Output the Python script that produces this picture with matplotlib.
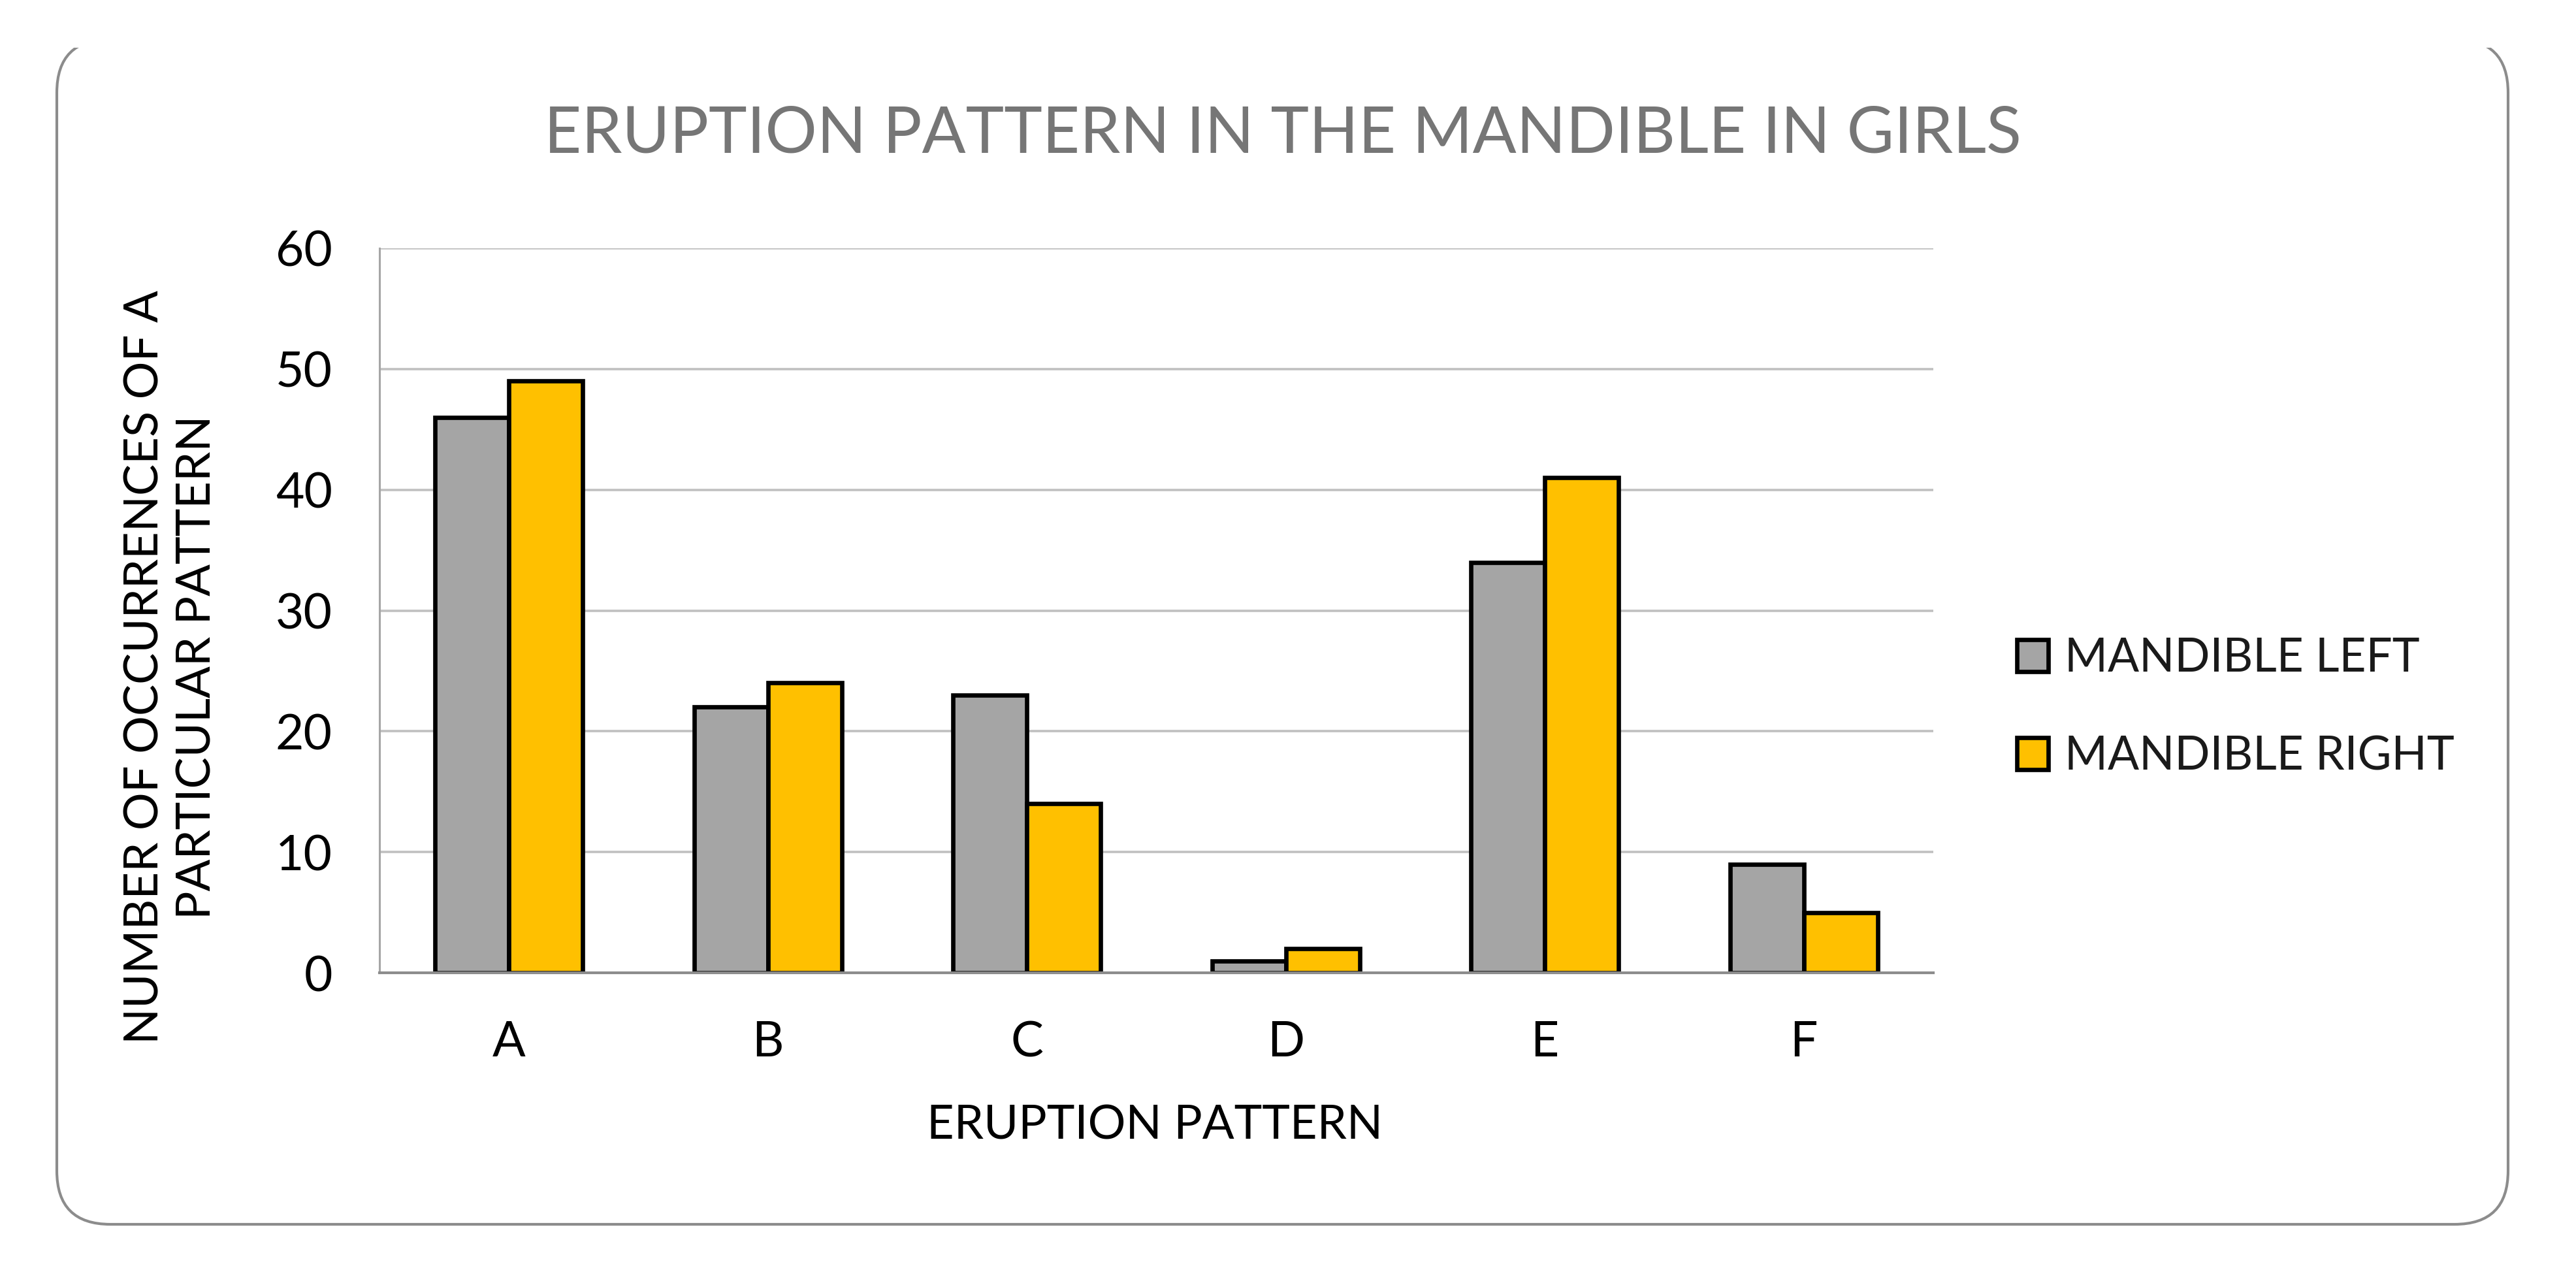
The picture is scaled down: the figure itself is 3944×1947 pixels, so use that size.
import numpy as np
import matplotlib
matplotlib.use("Agg")
import matplotlib.pyplot as plt
from matplotlib.patches import FancyBboxPatch, Rectangle
from matplotlib.transforms import IdentityTransform

categories = ["A", "B", "C", "D", "E", "F"]
mandible_left = [46, 22, 23, 1, 34, 9]
mandible_right = [49, 24, 14, 2, 41, 5]
series_names = ["MANDIBLE LEFT", "MANDIBLE RIGHT"]
yticks = [0, 10, 20, 30, 40, 50, 60]

FONT = ["Lato", "DejaVu Sans"]
plt.rcParams['font.family'] = FONT

W, H, DPI = 3944, 1947, 200
fig = plt.figure(figsize=(W / DPI, H / DPI), dpi=DPI)
fig.patch.set_facecolor("white")

# rounded outer border (pixel coords, origin bottom-left)
left_px, right_px, bottom_px, top_px = 87, 3840, H - 1874, H - 60
border = FancyBboxPatch((left_px, bottom_px), right_px - left_px, top_px - bottom_px,
                        boxstyle="round,pad=0,rounding_size=82",
                        transform=IdentityTransform(), facecolor="none",
                        edgecolor="#8c8c8c", linewidth=1.5, zorder=0)
fig.patches.append(border)
cover = Rectangle((0, H - 73), W, 73, transform=IdentityTransform(),
                  facecolor="white", edgecolor="none", zorder=1)
fig.patches.append(cover)

ax = fig.add_axes([581 / W, 1 - 1489 / H, (2960 - 581) / W, (1489 - 380) / H])
x = np.arange(len(categories))
w = 0.285
ax.bar(x - w / 2, mandible_left, w, color="#A5A5A5", edgecolor="black",
       linewidth=2.4, label=series_names[0], zorder=3)
ax.bar(x + w / 2, mandible_right, w, color="#FFC000", edgecolor="black",
       linewidth=2.4, label=series_names[1], zorder=3)

ax.set_xlim(-0.5, len(categories) - 0.5)
ax.set_ylim(0, 60)
ax.set_yticks(yticks)
ax.set_xticks(x)
ax.set_xticklabels(categories)
ax.yaxis.grid(True, color="#c0c0c0", linewidth=1.3, zorder=0)
ax.set_axisbelow(True)
for s in ["top", "right"]:
    ax.spines[s].set_visible(False)
ax.spines["left"].set_color("#a6a6a6")
ax.spines["left"].set_linewidth(1.1)
ax.spines["bottom"].set_color("#8c8c8c")
ax.spines["bottom"].set_linewidth(1.5)
ax.spines["bottom"].set_zorder(4)
ax.tick_params(axis="both", length=0, labelsize=27, colors="black")
ax.tick_params(axis="y", pad=26)
ax.tick_params(axis="x", pad=26)

fig.text(0.498, 1 - 206 / H, "ERUPTION PATTERN IN THE MANDIBLE IN GIRLS",
         ha="center", va="center", fontsize=35.7, color="#767676")
fig.text(1768 / W, 1 - 1723 / H, "ERUPTION PATTERN", ha="center", va="center",
         fontsize=26, color="black")
fig.text(262 / W, 1 - 1021 / H, "NUMBER OF OCCURRENCES OF A\nPARTICULAR PATTERN",
         ha="center", va="center", rotation=90, fontsize=26, color="black",
         linespacing=1.3, multialignment="center")

leg = fig.legend(loc="center left", bbox_to_anchor=(3088 / W, 1 - 1083 / H),
                 frameon=False, fontsize=25.6, handlelength=0.68, handleheight=0.68,
                 handletextpad=0.35, labelspacing=1.2, borderpad=0, borderaxespad=0)
for t in leg.get_texts():
    t.set_color("#1a1a1a")

fig.savefig("out.png", dpi=DPI, facecolor="white")
